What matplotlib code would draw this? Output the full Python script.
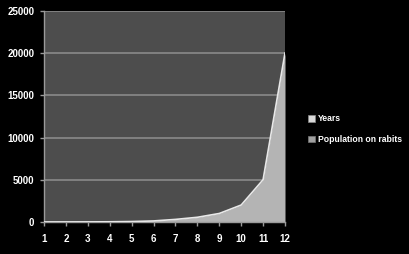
import matplotlib
matplotlib.use('Agg')
import matplotlib.pyplot as plt
from matplotlib.patches import Patch
import numpy as np

plt.rcParams['font.family'] = ['Liberation Sans', 'DejaVu Sans']

years = [1, 2, 3, 4, 5, 6, 7, 8, 9, 10, 11, 12]
population = [2, 5, 10, 20, 50, 120, 300, 550, 1000, 2000, 5000, 20000]
yticks = [0, 5000, 10000, 15000, 20000, 25000]

x = np.array(years)
yrs = np.array(years, dtype=float)
pop = np.array(population, dtype=float)

fig = plt.figure(figsize=(4.10, 2.54), dpi=100)
fig.patch.set_facecolor('black')
ax = fig.add_axes([44/410, 1 - 222/254, 241/410, 211/254])
ax.set_facecolor('#4d4d4d')

# stacked areas
ax.fill_between(x, 0, yrs, color='#d8d8d8', lw=0)
ax.fill_between(x, yrs, yrs + pop, color='#b4b4b4', lw=0, zorder=2)
ax.plot(x, yrs + pop, color='#e8e8e8', lw=1.2, zorder=3)

ax.set_xlim(1, 12)
ax.set_ylim(0, 25000)
ax.set_xticks(years)
ax.set_yticks(yticks)
ax.yaxis.grid(True, color='#8a8a8a', lw=1.2, zorder=1)
ax.set_axisbelow(True)

for side in ['top', 'right']:
    ax.spines[side].set_visible(False)
for side in ['left', 'bottom']:
    ax.spines[side].set_color('#9a9a9a')
    ax.spines[side].set_linewidth(1)

ax.tick_params(colors='#9a9a9a', length=3, width=1, direction='out')
ax.tick_params(axis='both', labelcolor='white', labelsize=7)
for lab in ax.get_xticklabels() + ax.get_yticklabels():
    lab.set_fontweight('bold')
ax.tick_params(axis='x', pad=6)
ax.tick_params(axis='y', pad=4)

handles = [Patch(facecolor='#d8d8d8', edgecolor='#888888', lw=0.5, label='Years'),
           Patch(facecolor='#a0a0a0', edgecolor='#777777', lw=0.5, label='Population on rabits')]
leg = fig.legend(handles=handles, loc='upper left', bbox_to_anchor=(305/410, 1 - 111/254),
                 frameon=False, fontsize=6.2, handlelength=0.8, handleheight=0.8,
                 handletextpad=0.3, labelspacing=1.35, borderaxespad=0)
for t in leg.get_texts():
    t.set_color('white')
    t.set_fontweight('bold')

fig.savefig('out.png', dpi=100, facecolor='black')
